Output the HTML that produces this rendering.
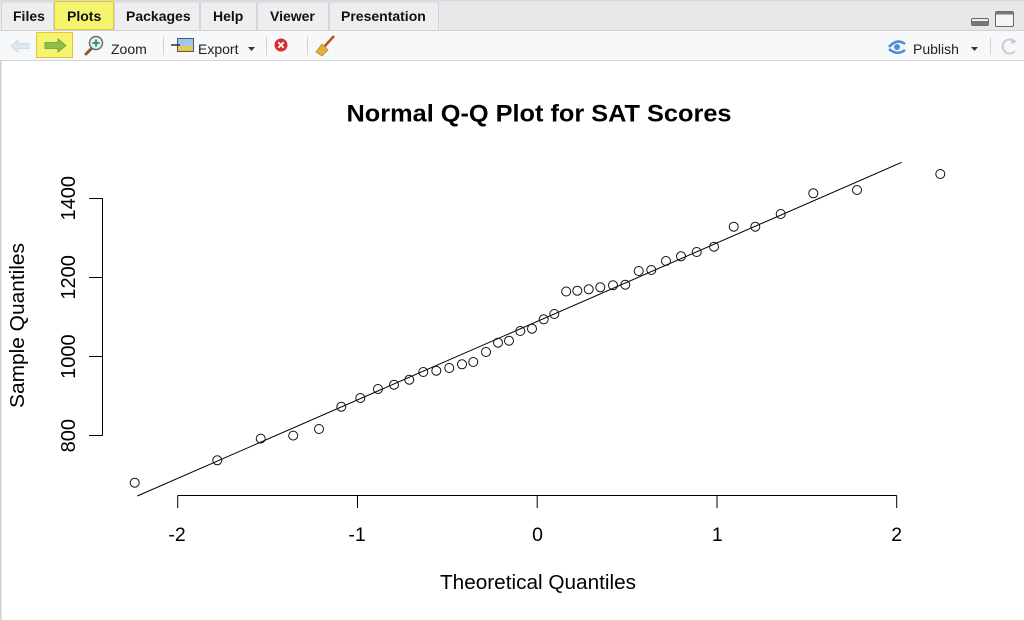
<!DOCTYPE html>
<html>
<head>
<meta charset="utf-8">
<style>
html,body{margin:0;padding:0;background:#fff;}
body{width:1024px;height:620px;overflow:hidden;font-family:"Liberation Sans",Arial,sans-serif;}
svg{display:block;}
</style>
</head>
<body>
<svg width="1024" height="620" viewBox="0 0 1024 620" xmlns="http://www.w3.org/2000/svg" font-family="Liberation Sans, Arial, sans-serif">
<rect x="0" y="0" width="1024" height="620" fill="#ffffff"/>
<rect x="0" y="0" width="1024" height="31" fill="#e7e8ea"/>
<line x1="0" y1="0.5" x2="1024" y2="0.5" stroke="#d6d8db"/>
<g stroke="#d3d5d8" fill="#eceef0">
<path d="M1.5 31 V4 Q1.5 2 3.5 2 H51.5 Q53.5 2 53.5 4 V31"/>
<path d="M114.5 31 V4 Q114.5 2 116.5 2 H197.5 Q199.5 2 199.5 4 V31"/>
<path d="M200.5 31 V4 Q200.5 2 202.5 2 H254.5 Q256.5 2 256.5 4 V31"/>
<path d="M257.5 31 V4 Q257.5 2 259.5 2 H326.5 Q328.5 2 328.5 4 V31"/>
<path d="M329.5 31 V4 Q329.5 2 331.5 2 H436.5 Q438.5 2 438.5 4 V31"/>
</g>
<rect x="54.5" y="1.5" width="59" height="28" fill="#f5f46e" stroke="#e9c23a"/>
<g font-size="14" font-weight="bold" fill="#111">
<text x="13" y="21">Files</text>
<text x="67" y="21">Plots</text>
<text x="126" y="21">Packages</text>
<text x="213" y="21">Help</text>
<text x="270" y="21">Viewer</text>
<text x="341" y="21">Presentation</text>
</g>
<rect x="971.5" y="18.5" width="17" height="7" rx="1.5" fill="#eef0f2" stroke="#666"/>
<rect x="971.5" y="21" width="17" height="4.5" fill="#777"/>
<rect x="995.5" y="11.5" width="18" height="15" rx="1.5" fill="#f4f5f6" stroke="#666"/>
<rect x="995.5" y="11.5" width="18" height="3" fill="#777"/>
<rect x="0" y="31" width="1024" height="29" fill="#f7f8f9"/>
<line x1="0" y1="30.5" x2="1024" y2="30.5" stroke="#d0d3d6"/>
<line x1="0" y1="60.5" x2="1024" y2="60.5" stroke="#d3d6d9"/>
<path d="M11 46 L18 40 V43.5 H29 V48.5 H18 V52 Z" fill="#dbe8f3" stroke="#c5d7e6" stroke-width="0.8"/>
<rect x="36.5" y="32.5" width="36" height="25" fill="#f5f46e" stroke="#e9c23a"/>
<path d="M66 45.5 L58 39 V42.5 H45 V48.5 H58 V52 Z" fill="#8dc04b" stroke="#6a9a35" stroke-width="0.8"/>
<line x1="86" y1="54" x2="92" y2="48" stroke="#8a5a2a" stroke-width="3" stroke-linecap="round"/>
<circle cx="96" cy="43" r="6.5" fill="#e6f0f6" stroke="#666" stroke-width="1.4"/>
<path d="M96 39.5 V46.5 M92.5 43 H99.5" stroke="#2fa04a" stroke-width="2"/>
<text x="111" y="54" font-size="14" fill="#222">Zoom</text>
<line x1="163.5" y1="37" x2="163.5" y2="55" stroke="#cfd2d5"/>
<rect x="177.5" y="38.5" width="16" height="13" fill="#9cc7ef" stroke="#556"/>
<rect x="178" y="46" width="15" height="5" fill="#e8c84a"/>
<path d="M171 45 H180" stroke="#333" stroke-width="1.5"/>
<text x="198" y="54" font-size="14" fill="#222">Export</text>
<path d="M248 47 L255 47 L251.5 51 Z" fill="#333"/>
<line x1="266.5" y1="37" x2="266.5" y2="55" stroke="#cfd2d5"/>
<circle cx="281" cy="45" r="6.5" fill="#d32f2f"/>
<path d="M278.3 42.3 L283.7 47.7 M283.7 42.3 L278.3 47.7" stroke="#fff" stroke-width="1.8"/>
<line x1="307.5" y1="37" x2="307.5" y2="55" stroke="#cfd2d5"/>
<line x1="334" y1="36" x2="324" y2="47" stroke="#b3541e" stroke-width="2.5"/>
<path d="M322 44 L328 50 L322 56 L316 52 Z" fill="#e2b13c" stroke="#b98a22" stroke-width="0.8"/>
<path d="M889 47 Q897 38 905 44" fill="none" stroke="#4a8fd6" stroke-width="2.5"/>
<path d="M889 49 Q897 56 905 50" fill="none" stroke="#4a8fd6" stroke-width="2.5"/>
<circle cx="897" cy="47" r="3" fill="#4a8fd6"/>
<text x="913" y="54" font-size="14" fill="#222">Publish</text>
<path d="M971 47 L978 47 L974.5 51 Z" fill="#333"/>
<line x1="990.5" y1="37" x2="990.5" y2="55" stroke="#cfd2d5"/>
<path d="M1015 42 A7 7 0 1 0 1015 51" fill="none" stroke="#c7ccd1" stroke-width="2"/>
<path d="M1012 38 L1017 42 L1011 44 Z" fill="#c7ccd1"/>
<rect x="0" y="61" width="1.5" height="559" fill="#d0d0d0"/>
<text x="539" y="121.5" font-size="24" font-weight="bold" text-anchor="middle" textLength="385" lengthAdjust="spacingAndGlyphs" fill="#000">Normal Q-Q Plot for SAT Scores</text>
<g stroke="#000" stroke-width="1" fill="none">
<line x1="102.5" y1="198.3" x2="102.5" y2="435.7"/>
<line x1="89" y1="198.5" x2="102.5" y2="198.5"/>
<line x1="89" y1="277.5" x2="102.5" y2="277.5"/>
<line x1="89" y1="356.5" x2="102.5" y2="356.5"/>
<line x1="89" y1="435.5" x2="102.5" y2="435.5"/>
</g>
<g font-size="20" fill="#000" text-anchor="middle">
<text transform="translate(75,198.3) rotate(-90)">1400</text>
<text transform="translate(75,277.4) rotate(-90)">1200</text>
<text transform="translate(75,356.6) rotate(-90)">1000</text>
<text transform="translate(75,435.7) rotate(-90)">800</text>
</g>
<text transform="translate(24,325.5) rotate(-90)" font-size="20" text-anchor="middle" textLength="165" lengthAdjust="spacingAndGlyphs" fill="#000">Sample Quantiles</text>
<g stroke="#000" stroke-width="1" fill="none">
<line x1="177.7" y1="495.5" x2="896.7" y2="495.5"/>
<line x1="177.7" y1="495.5" x2="177.7" y2="508"/>
<line x1="357.5" y1="495.5" x2="357.5" y2="508"/>
<line x1="537.2" y1="495.5" x2="537.2" y2="508"/>
<line x1="717" y1="495.5" x2="717" y2="508"/>
<line x1="896.7" y1="495.5" x2="896.7" y2="508"/>
</g>
<g font-size="19.5" fill="#000" text-anchor="middle">
<text x="177" y="541">-2</text>
<text x="357" y="541">-1</text>
<text x="537.5" y="541">0</text>
<text x="717.3" y="541">1</text>
<text x="896.7" y="541">2</text>
</g>
<text x="538" y="589" font-size="20" text-anchor="middle" textLength="196" lengthAdjust="spacingAndGlyphs" fill="#000">Theoretical Quantiles</text>
<line x1="137.3" y1="496" x2="901.7" y2="162.3" stroke="#000" stroke-width="1"/>
<g fill="none" stroke="#111" stroke-width="1">
<circle cx="134.7" cy="482.7" r="4.5"/>
<circle cx="217.3" cy="460.3" r="4.5"/>
<circle cx="260.7" cy="438.6" r="4.5"/>
<circle cx="293.2" cy="435.6" r="4.5"/>
<circle cx="319" cy="429" r="4.5"/>
<circle cx="341.3" cy="406.7" r="4.5"/>
<circle cx="360.3" cy="398" r="4.5"/>
<circle cx="378" cy="389" r="4.5"/>
<circle cx="394" cy="384.7" r="4.5"/>
<circle cx="409.3" cy="379.7" r="4.5"/>
<circle cx="423.3" cy="372" r="4.5"/>
<circle cx="436.3" cy="370.7" r="4.5"/>
<circle cx="449.3" cy="368" r="4.5"/>
<circle cx="462" cy="364.3" r="4.5"/>
<circle cx="473.3" cy="362" r="4.5"/>
<circle cx="486" cy="352" r="4.5"/>
<circle cx="498" cy="342.7" r="4.5"/>
<circle cx="509" cy="340.7" r="4.5"/>
<circle cx="520.3" cy="331" r="4.5"/>
<circle cx="532" cy="328.7" r="4.5"/>
<circle cx="543.7" cy="319.3" r="4.5"/>
<circle cx="554.3" cy="314" r="4.5"/>
<circle cx="566.2" cy="291.5" r="4.5"/>
<circle cx="577.3" cy="290.7" r="4.5"/>
<circle cx="588.7" cy="289.3" r="4.5"/>
<circle cx="600.3" cy="287.3" r="4.5"/>
<circle cx="613" cy="285.3" r="4.5"/>
<circle cx="625.3" cy="284.7" r="4.5"/>
<circle cx="638.7" cy="271" r="4.5"/>
<circle cx="651.3" cy="270" r="4.5"/>
<circle cx="666" cy="261" r="4.5"/>
<circle cx="681" cy="256.3" r="4.5"/>
<circle cx="696.7" cy="252" r="4.5"/>
<circle cx="714" cy="246.7" r="4.5"/>
<circle cx="733.7" cy="226.7" r="4.5"/>
<circle cx="755.3" cy="226.7" r="4.5"/>
<circle cx="780.7" cy="214" r="4.5"/>
<circle cx="813.3" cy="193.3" r="4.5"/>
<circle cx="857" cy="190" r="4.5"/>
<circle cx="940.3" cy="174" r="4.5"/>
</g>
</svg>
</body>
</html>
